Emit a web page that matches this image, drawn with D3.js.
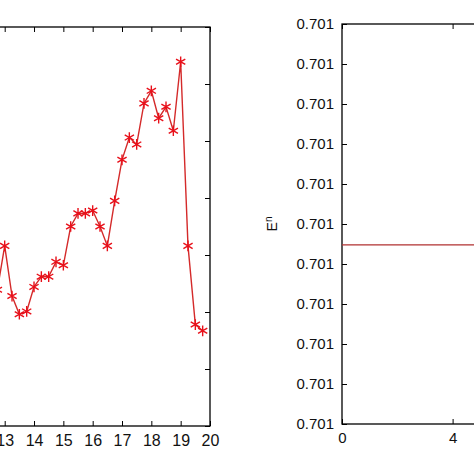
<!DOCTYPE html>
<html><head><meta charset="utf-8">
<script src="https://cdn.jsdelivr.net/npm/d3@7"></script>
<style>body{margin:0;background:#fff}svg{display:block}text{font-family:"Liberation Sans",Arial,sans-serif}</style>
</head><body><svg width="474" height="474"></svg>
<script>
// left panel series
const tVals = [12.5,12.75,13,13.25,13.5,13.75,14,14.25,14.5,14.75,15,15.25,15.5,15.75,16,16.25,16.5,16.75,17,17.25,17.5,17.75,18,18.25,18.5,18.75,19,19.25,19.5,19.75];
const yVals = [2.75,2.39,3.16,2.28,1.96,2.01,2.44,2.62,2.62,2.88,2.82,3.50,3.73,3.73,3.78,3.50,3.16,3.95,4.67,5.06,4.94,5.66,5.88,5.40,5.60,5.18,6.39,3.16,1.78,1.67];
const leftXTicks = [13,14,15,16,17,18,19,20];
const leftYTicks = [0,1,2,3,4,5,6,7];
// right panel
const rightYTicks = [0,1,2,3,4,5,6,7,8,9,10];
const rightYLabels = rightYTicks.map(() => '0.701');
const rightXTicks = [0,4,8,12,16,20];
const energyLevel = 4.48;

const svg = d3.select('svg');
const red = '#d42a2a';

// ---- left panel
const x1 = d3.scaleLinear().domain([10,20]).range([-83.3,210]);
const y1 = d3.scaleLinear().domain([0,7]).range([426,27]);
const g1 = svg.append('g');
g1.append('rect').attr('x',x1(10)).attr('y',y1(7)).attr('width',x1(20)-x1(10)).attr('height',y1(0)-y1(7))
  .attr('fill','none').attr('stroke','#000').attr('stroke-width',1.3);
g1.append('g').attr('transform','translate(0,'+y1(0)+')')
  .call(d3.axisBottom(x1).tickValues(leftXTicks).tickSize(-5).tickPadding(9).tickFormat(d3.format('d')))
  .call(a => a.select('.domain').remove());
g1.append('g').attr('transform','translate(0,'+y1(7)+')')
  .call(d3.axisTop(x1).tickValues(leftXTicks).tickSize(-5).tickFormat(''))
  .call(a => a.select('.domain').remove());
g1.append('g').attr('transform','translate('+x1(20)+',0)')
  .call(d3.axisRight(y1).tickValues(leftYTicks).tickSize(-5).tickFormat(''))
  .call(a => a.select('.domain').remove());
g1.selectAll('.tick text').attr('font-size',16).attr('fill','#111');

const pts = tVals.map((t,i) => [t, yVals[i]]);
g1.append('path').datum(pts).attr('fill','none').attr('stroke',red).attr('stroke-width',1.4)
  .attr('d', d3.line().x(d => x1(d[0])).y(d => y1(d[1])));
const star = d3.symbol().type(d3.symbolAsterisk).size(80);
g1.selectAll('.mk').data(pts).enter().append('path')
  .attr('transform', d => 'translate('+x1(d[0])+','+y1(d[1])+')')
  .attr('d', star).attr('fill','none').attr('stroke','#e8101a').attr('stroke-width',1.4);

// ---- right panel
const x2 = d3.scaleLinear().domain([0,20]).range([342,342+553]);
const y2 = d3.scaleLinear().domain([0,10]).range([424,24]);
const g2 = svg.append('g');
g2.append('rect').attr('x',x2(0)).attr('y',y2(10)).attr('width',x2(20)-x2(0)).attr('height',y2(0)-y2(10))
  .attr('fill','none').attr('stroke','#000').attr('stroke-width',1.3);
g2.append('g').attr('transform','translate(0,'+y2(0)+')')
  .call(d3.axisBottom(x2).tickValues(rightXTicks).tickSize(-5).tickPadding(8))
  .call(a => a.select('.domain').remove());
g2.append('g').attr('transform','translate(0,'+y2(10)+')')
  .call(d3.axisTop(x2).tickValues(rightXTicks).tickSize(-5).tickFormat(''))
  .call(a => a.select('.domain').remove());
g2.append('g').attr('transform','translate('+x2(0)+',0)')
  .call(d3.axisLeft(y2).tickValues(rightYTicks).tickSize(-5).tickPadding(8).tickFormat((d,i) => rightYLabels[i]))
  .call(a => a.select('.domain').remove());
g2.selectAll('.tick text').attr('font-size',15).attr('fill','#111');
g2.append('path').datum([0,20]).attr('fill','none').attr('stroke','#b03030').attr('stroke-width',1.2)
  .attr('d', d3.line().x(d => x2(d)).y(() => y2(energyLevel)));
const lab = g2.append('text').attr('transform','translate(277,224) rotate(-90)')
  .attr('text-anchor','middle').attr('font-size',14).attr('fill','#111');
lab.append('tspan').text('E');
lab.append('tspan').attr('dy',-5).attr('font-size',10).text('n');
</script></body></html>
